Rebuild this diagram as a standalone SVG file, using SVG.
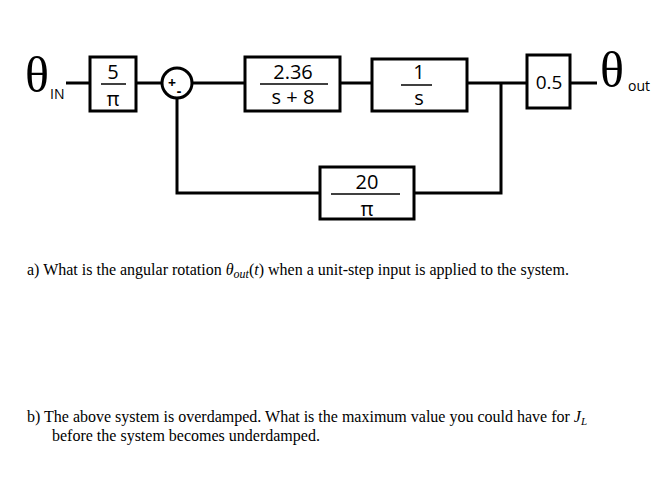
<svg xmlns="http://www.w3.org/2000/svg" width="665" height="486" viewBox="0 0 665 486">
<style>
.b{fill:#fff;stroke:#000;stroke-width:3}
.w{fill:none;stroke:#000;stroke-width:3}
.f{stroke:#000;stroke-width:1.5}
.s{font-family:"Open Sans","DejaVu Sans",sans-serif;fill:#000;text-anchor:middle}
.l{font-family:"Open Sans","DejaVu Sans",sans-serif;fill:#000;font-size:14px}
.th{font-family:"Liberation Serif",serif;font-size:50px;fill:#000}
.t{font-family:"Liberation Serif",serif;font-size:16px;fill:#000}
</style>
<rect width="665" height="486" fill="#fff"/>
<g id="connectors">
<path class="w" d="M66 83H90M136 83H163M191 83H245M340 83H372M467 83H527M570 83H597"/>
<path class="w" d="M177 98V193H320M414 193H501V83"/>
</g>
<g id="in"><text class="th" x="25" y="92">θ</text><text class="l" x="50" y="99">IN</text></g>
<g id="g1"><rect class="b" x="90" y="57" width="46" height="54"/><text class="s" x="113" y="79" font-size="20">5</text><line class="f" x1="101" y1="84" x2="126" y2="84"/><text class="s" x="113" y="106" font-size="20">π</text></g>
<g id="sum"><circle class="b" cx="177" cy="83" r="15"/><text class="s" x="172" y="88" font-size="14" font-weight="bold">+</text><text class="s" x="179" y="96" font-size="14" font-weight="bold">-</text></g>
<g id="g2"><rect class="b" x="245" y="57" width="95" height="54"/><text class="s" x="293" y="79" font-size="20">2.36</text><line class="f" x1="260" y1="84" x2="328" y2="84"/><text class="s" x="293" y="104" font-size="20">s + 8</text></g>
<g id="g3"><rect class="b" x="372" y="59" width="95" height="52"/><text class="s" x="419" y="79" font-size="20">1</text><line class="f" x1="401" y1="85" x2="432" y2="85"/><text class="s" x="419" y="105" font-size="20">s</text></g>
<g id="g4"><rect class="b" x="527" y="55" width="43" height="53"/><text class="s" x="549" y="89" font-size="19">0.5</text></g>
<g id="out"><text class="th" x="600" y="87">θ</text><text class="l" x="628" y="91">out</text></g>
<g id="g5"><rect class="b" x="320" y="167" width="94" height="52"/><text class="s" x="367" y="189" font-size="20">20</text><line class="f" x1="331" y1="194" x2="400" y2="194"/><text class="s" x="367" y="216" font-size="20">π</text></g>
<text class="t" x="27" y="275">a)  What is the angular rotation <tspan font-style="italic">θ</tspan><tspan font-style="italic" font-size="12" dy="3">out</tspan><tspan dy="-3">(<tspan font-style="italic">t</tspan>) when a unit-step input is applied to the system.</tspan></text>
<text class="t" x="27" y="422">b)  The above system is overdamped. What is the maximum value you could have for <tspan font-style="italic">J</tspan><tspan font-style="italic" font-size="11" dy="3">L</tspan></text>
<text class="t" x="52" y="441">before the system becomes underdamped.</text>
</svg>
